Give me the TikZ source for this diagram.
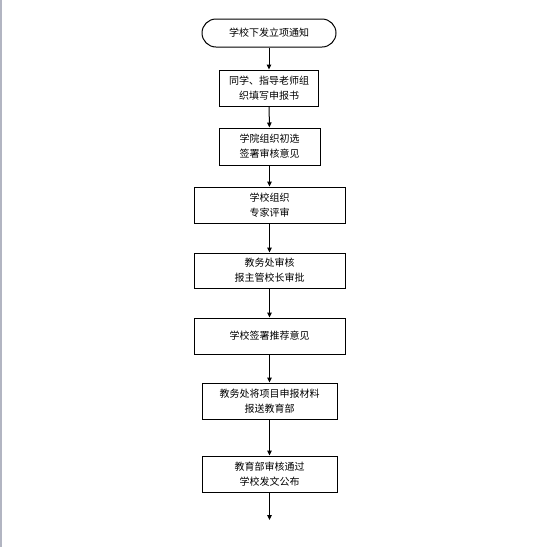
\documentclass[tikz,border=0pt]{standalone}
\usepackage{fontspec}
\newfontfamily\cjk{Noto Sans CJK SC}
\usetikzlibrary{arrows.meta}
\definecolor{edgegray}{RGB}{178,181,194}
\tikzset{
  stepbox/.style={draw,line width=1pt,align=center,inner sep=0pt,
    font=\cjk\fontsize{10}{15}\selectfont},
  startbox/.style={stepbox,rounded corners=14pt},
  flow/.style={line width=1pt,-{Triangle[length=5pt,width=4.5pt]}}
}
\begin{document}
\begin{tikzpicture}[x=1pt,y=-1pt]
    \useasboundingbox (0,0) rectangle (556,547);
    \fill[white] (0,0) rectangle (556,547);
    \fill[edgegray] (0,0) rectangle (2,547);
    % steps
    \node[startbox,minimum width=134pt,minimum height=28pt] (start) at (269,33) {学校下发立项通知};
    \node[stepbox,minimum width=99pt,minimum height=36pt] (apply) at (269,88) {同学、指导老师组\\织填写申报书};
    \node[stepbox,minimum width=101pt,minimum height=37pt] (college) at (269.5,146.5) {学院组织初选\\签署审核意见};
    \node[stepbox,minimum width=151pt,minimum height=36pt] (expert) at (269.5,205) {学校组织\\专家评审};
    \node[stepbox,minimum width=151pt,minimum height=35pt] (office) at (269.5,270.5) {教务处审核\\报主管校长审批};
    \node[stepbox,minimum width=151pt,minimum height=36pt] (school) at (269.5,336) {学校签署推荐意见};
    \node[stepbox,minimum width=135pt,minimum height=36pt] (submit) at (269.5,401) {教务处将项目申报材料\\报送教育部};
    \node[stepbox,minimum width=135pt,minimum height=36pt] (publish) at (269.5,474) {教育部审核通过\\学校发文公布};
    \coordinate (next) at (269.5,520);
    % arrows
    \draw[flow] (start) -- (apply);
    \draw[flow] (apply) -- (college);
    \draw[flow] (college) -- (expert);
    \draw[flow] (expert) -- (office);
    \draw[flow] (office) -- (school);
    \draw[flow] (school) -- (submit);
    \draw[flow] (submit) -- (publish);
    \draw[flow] (publish) -- (next);
  \end{tikzpicture}
\end{document}
